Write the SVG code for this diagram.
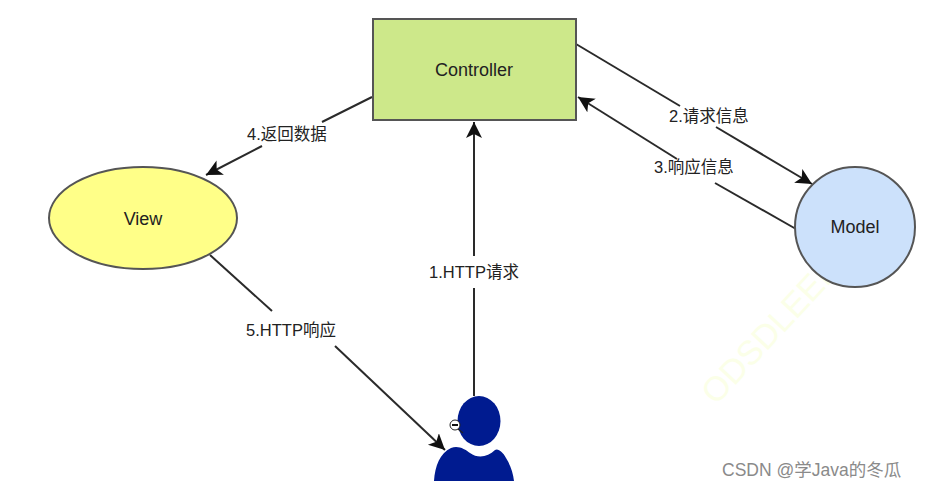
<svg xmlns="http://www.w3.org/2000/svg" width="927" height="490" viewBox="0 0 927 490">
<style>
text{font-family:"Liberation Sans","Noto Sans CJK SC",sans-serif;fill:#222}
.n{font-size:18px;text-anchor:middle}
.l{font-size:16.5px;text-anchor:middle}
.s{stroke:#555;stroke-width:2}
.c{fill:none;stroke:#2a2a2a;stroke-width:2;marker-end:url(#a)}
.p{fill:none;stroke:#2a2a2a;stroke-width:2}
</style>
<defs><marker id="a" markerUnits="userSpaceOnUse" markerWidth="20" markerHeight="18" refX="16" refY="8" orient="auto"><path d="M0 0L16 8L0 16L4 8Z" fill="#111"/></marker></defs>
<rect width="927" height="490" fill="#fff"/>
<text id="watermark" x="0" y="0" transform="translate(716 406) rotate(-47)" font-size="34" style="fill:#fbffe8">ODSDLEEL</text>
<g id="connectors">
<path class="p" d="M576 44L680 106"/><path class="c" d="M716 127L812 184"/>
<path class="p" d="M796 229L715 183"/><path class="c" d="M677 159L578 97"/>
<path class="p" d="M372 97L322 122"/><path class="c" d="M262 146L206 175"/>
<path class="p" d="M474 396V288"/><path class="c" d="M474 256V122"/>
<path class="p" d="M210 255L272 311"/><path class="c" d="M335 346L445 450"/>
</g>
<g id="controller"><rect class="s" x="373" y="19" width="203" height="101" fill="#cde88a"/><text class="n" x="474" y="76">Controller</text></g>
<g id="view"><ellipse class="s" cx="143" cy="218" rx="94" ry="51" fill="#ffff88"/><text class="n" x="143" y="225">View</text></g>
<g id="model"><circle class="s" cx="855" cy="227" r="60" fill="#cce1fb"/><text class="n" x="855" y="233">Model</text></g>
<g id="user" fill="#001b90">
<ellipse cx="479" cy="421" rx="21.500" ry="25"/>
<path d="M434 481C435 466 440 453 451 448C458 445 465 449 470 453C478 459 488 457 495 450C498 448 503 452 506 458C511 466 513 473 514 481Z"/>
<circle cx="455" cy="425" r="5" fill="#fff" stroke="#222" stroke-width="1"/><path d="M452 425H458" stroke="#111" stroke-width="2"/><path d="M458 429L463 433" stroke="#222" stroke-width="1.500"/>
</g>
<g id="labels">
<text class="l" x="709" y="122">2.请求信息</text>
<text class="l" x="694" y="173">3.响应信息</text>
<text class="l" x="287" y="140">4.返回数据</text>
<text class="l" x="474" y="278">1.HTTP请求</text>
<text class="l" x="291" y="336">5.HTTP响应</text>
<text x="722" y="476" font-size="17.500" style="fill:#8a8a8a">CSDN @学Java的冬瓜</text>
</g>
</svg>
